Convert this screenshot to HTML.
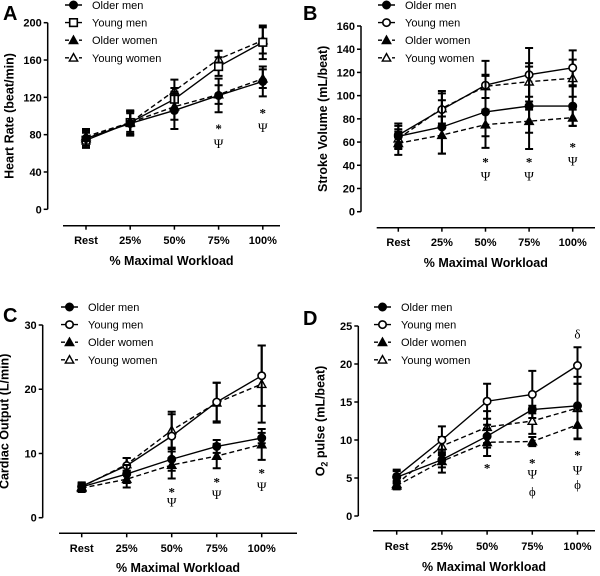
<!DOCTYPE html>
<html><head><meta charset="utf-8">
<style>
html,body{margin:0;padding:0;background:#fff;}
svg{display:block;font-family:"Liberation Sans",Arial,sans-serif;}
.tick{font-size:11px;font-weight:bold;}
.ttl{font-size:12.5px;font-weight:bold;}
.leg{font-size:11px;}
.pl{font-size:20px;font-weight:bold;}
.ann{font-size:13px;font-family:"Liberation Serif","DejaVu Serif",serif;}
</style></head>
<body>
<svg id="fig" width="600" height="576" viewBox="0 0 600 576" xmlns="http://www.w3.org/2000/svg"></svg>
<script>
const categories = ["Rest","25%","50%","75%","100%"];
const seriesNames = ["Older men","Young men","Older women","Young women"];

// Panel A: Heart rate
const hrOlderMen = [76,92,106,122,137];
const hrYoungMen = [74,93,118,153,179];
const hrOlderWomen = [76,93,110,123,140];
const hrYoungWomen = [78,93,127,161,181];
const hrErrOM = [10,13,20,18,16];
const hrErrYM = [8,13,12,10,18];
const hrErrOW = [8,12,14,10,10];
const hrErrYW = [6,10,12,9,14];
const hrTicks = [0,40,80,120,160,200];

// Panel B: Stroke volume
const svOlderMen = [65,73,86,91,91];
const svYoungMen = [66,88,109,118,124];
const svOlderWomen = [59,66,75,78,81];
const svYoungWomen = [63,89,108,112,115];
const svErrOM = [11,23,31,37,17];
const svErrYM = [8,16,21,23,15];
const svErrOW = [10,16,10,10,7];
const svErrYW = [8,13,10,13,16];
const svTicks = [0,20,40,60,80,100,120,140,160];

// Panel C: Cardiac output
const coOlderMen = [4.8,6.8,9.1,11.1,12.4];
const coYoungMen = [4.9,8.1,12.7,18.0,22.1];
const coOlderWomen = [4.6,6.0,8.2,9.6,11.4];
const coYoungWomen = [4.8,8.3,13.6,17.9,20.8];
const coErrOM = [0.6,1.4,1.8,1.0,0.8];
const coErrYM = [0.6,1.2,3.4,3.0,4.7];
const coErrOW = [0.6,1.3,2.1,1.9,2.4];
const coErrYW = [0.5,1.0,2.9,3.1,6.0];
const coTicks = [0,10,20,30];

// Panel D: O2 pulse
const opOlderMen = [5.1,7.4,10.5,14.0,14.5];
const opYoungMen = [5.2,10.0,15.1,16.0,19.8];
const opOlderWomen = [4.0,7.2,9.7,9.8,12.0];
const opYoungWomen = [4.2,9.2,11.7,12.5,14.2];
const opErrOM = [0.8,1.0,1.5,0.5,2.9];
const opErrYM = [0.9,1.8,2.3,3.1,2.4];
const opErrOW = [0.5,1.5,1.8,0.6,1.8];
const opErrYW = [0.4,1.2,2.1,1.7,4.1];
const opTicks = [0,5,10,15,20,25];

// Significance annotations: [categoryIndex, value, symbol]
const hrAnn = [[3,88,"*"],[3,71,"Ψ"],[4,105,"*"],[4,88,"Ψ"]];
const svAnn = [[2,44,"*"],[2,31,"Ψ"],[3,44,"*"],[3,31,"Ψ"],[4,57,"*"],[4,44,"Ψ"]];
const coAnn = [[2,4.2,"*"],[2,2.5,"Ψ"],[3,5.8,"*"],[3,3.7,"Ψ"],[4,7.2,"*"],[4,4.9,"Ψ"]];
const opAnn = [[2,6.5,"*"],[3,7.2,"*"],[3,5.6,"Ψ"],[3,3.3,"ϕ"],[4,8.2,"*"],[4,6.1,"Ψ"],[4,4.2,"ϕ"],[4,24.0,"δ"]];

const NS="http://www.w3.org/2000/svg";
const svg=document.getElementById('fig');
function mk(tag,attrs,parent){const e=document.createElementNS(NS,tag);for(const k in attrs)e.setAttribute(k,attrs[k]);(parent||svg).appendChild(e);return e;}

const panels=[
 {id:"a",letter:"A",lx:3,ly:20,ax:47.7,y0:209.3,yTop:22.7,max:200,xaxY:225.7,xa0:63,xa1:280,cx0:86,dx:44.2,
  title:"Heart Rate (beat/min)",tickY:244,xtY:265,legX:65,legY:5,ym:"square",
  data:[hrOlderMen,hrYoungMen,hrOlderWomen,hrYoungWomen],err:[hrErrOM,hrErrYM,hrErrOW,hrErrYW],ticks:hrTicks,ann:hrAnn},
 {id:"b",letter:"B",lx:303,ly:20,ax:361,y0:211.7,yTop:26,max:160,xaxY:227.7,xa0:376.7,xa1:595,cx0:398.3,dx:43.6,
  title:"Stroke Volume (mL/beat)",tickY:246,xtY:267,legX:378,legY:5,ym:"circle",
  data:[svOlderMen,svYoungMen,svOlderWomen,svYoungWomen],err:[svErrOM,svErrYM,svErrOW,svErrYW],ticks:svTicks,ann:svAnn},
 {id:"c",letter:"C",lx:3,ly:322,ax:42.7,y0:517.7,yTop:325,max:30,xaxY:533.3,xa0:59,xa1:297,cx0:81.7,dx:45,
  title:"Cardiac Output (L/min)",tickY:552,xtY:572,legX:61,legY:307,ym:"circle",
  data:[coOlderMen,coYoungMen,coOlderWomen,coYoungWomen],err:[coErrOM,coErrYM,coErrOW,coErrYW],ticks:coTicks,ann:coAnn},
 {id:"d",letter:"D",lx:303,ly:325,ax:358.3,y0:516,yTop:326,max:25,xaxY:530.7,xa0:373,xa1:595,cx0:396.7,dx:45.2,
  title:"O2 pulse (mL/beat)",tickY:550,xtY:571,legX:374,legY:307,ym:"circle",
  data:[opOlderMen,opYoungMen,opOlderWomen,opYoungWomen],err:[opErrOM,opErrYM,opErrOW,opErrYW],ticks:opTicks,ann:opAnn}
];

function marker(g,kind,x,y,filled){
  let m;
  if(kind==="circle") m=mk('circle',{cx:x,cy:y,r:3.7,fill:filled?'#000':'#fff',stroke:'#000','stroke-width':1.6},g);
  else if(kind==="square") m=mk('rect',{x:x-3.8,y:y-3.8,width:7.6,height:7.6,fill:'#fff',stroke:'#000','stroke-width':1.6},g);
  else m=mk('polygon',{points:`${x},${y-4.2} ${x-4.2},${y+3.3} ${x+4.2},${y+3.3}`,fill:filled?'#000':'#fff',stroke:'#000','stroke-width':1.4},g);
  return m;
}

panels.forEach(p=>{
  const g=mk('g',{});
  
  
  const ys=v=>p.y0-(v/p.max)*(p.y0-p.yTop);
  const xs=i=>p.cx0+i*p.dx;
  const L=mk('text',{x:p.lx,y:p.ly,class:'pl'},g);L.textContent=p.letter;
  
  const ya=mk('line',{x1:p.ax,y1:p.yTop,x2:p.ax,y2:p.y0,stroke:'#000','stroke-width':1.5},g);
  
  p.ticks.forEach(t=>{
    mk('line',{x1:p.ax-4,y1:ys(t),x2:p.ax,y2:ys(t),stroke:'#000','stroke-width':1.5},g);
    const tt=mk('text',{x:p.ax-6,y:ys(t)+4,'text-anchor':'end',class:'tick'},g);tt.textContent=t;
    
  });
  const cy=(p.y0+p.yTop)/2;
  const yt=mk('text',{x:0,y:0,class:'ttl','text-anchor':'middle',transform:`translate(${p.ax-34},${cy}) rotate(-90)`},g);
  if(p.id==="d"){yt.innerHTML='O<tspan font-size="9" dy="3">2</tspan><tspan dy="-3"> pulse (mL/beat)</tspan>';}
  else yt.textContent=p.title;
  
  const xa=mk('line',{x1:p.xa0,y1:p.xaxY,x2:p.xa1,y2:p.xaxY,stroke:'#000','stroke-width':1.5},g);
  
  categories.forEach((c,i)=>{
    mk('line',{x1:xs(i),y1:p.xaxY,x2:xs(i),y2:p.xaxY+4,stroke:'#000','stroke-width':1.5},g);
    const tt=mk('text',{x:xs(i),y:p.tickY,'text-anchor':'middle',class:'tick'},g);tt.textContent=c;
    
  });
  const xt=mk('text',{x:(p.xa0+p.xa1)/2,y:p.xtY,'text-anchor':'middle',class:'ttl'},g);
  xt.setAttribute('xml:space','preserve');xt.textContent='% Maximal  Workload';
  
  const kinds=["circle",p.ym,"tri","tri"],fills=[true,false,true,false],dash=[null,null,"5,3","5,3"];
  [3,2,1,0].forEach(s=>{
    const vals=p.data[s],errs=p.err[s];
    const sg=mk('g',{},g);
    
    
    vals.forEach((v,i)=>{
      const x=xs(i),e=errs[i];
      const eb=mk('path',{d:`M${x},${ys(v-e)}V${ys(v+e)}M${x-4},${ys(v+e)}H${x+4}M${x-4},${ys(v-e)}H${x+4}`,stroke:'#000','stroke-width':2,fill:'none'},sg);
      
    });
    const pts=vals.map((v,i)=>xs(i)+','+ys(v)).join(' ');
    const ln=mk('polyline',{points:pts,fill:'none',stroke:'#000','stroke-width':1.4},sg);
    if(dash[s])ln.setAttribute('stroke-dasharray',dash[s]);
    
    vals.forEach((v,i)=>{
      const m=marker(sg,kinds[s],xs(i),ys(v),fills[s]);
      
    });
  });
  p.ann.forEach(a=>{
    const t=mk('text',{x:xs(a[0]),y:ys(a[1])+5,'text-anchor':'middle',class:'ann'},g);
    t.textContent=a[2];
    if(a[2]==="*"){t.setAttribute('font-size','20');t.setAttribute('font-weight','bold');t.setAttribute('font-family','Liberation Sans, sans-serif');t.setAttribute('y',ys(a[1])+6);}
    
  });
  const lg=mk('g',{},g);
  
  seriesNames.forEach((n,s)=>{
    const y=p.legY+s*17.6;
    const eg=mk('g',{},lg);
    
    const l=mk('line',{x1:p.legX,y1:y,x2:p.legX+17,y2:y,stroke:'#000','stroke-width':1.4},eg);
    if(dash[s])l.setAttribute('stroke-dasharray','4,3');
    marker(eg,kinds[s],p.legX+8.5,y,fills[s]);
    const t=mk('text',{x:p.legX+27,y:y+4,class:'leg'},eg);t.textContent=n;
  });
});
</script>
</body></html>
